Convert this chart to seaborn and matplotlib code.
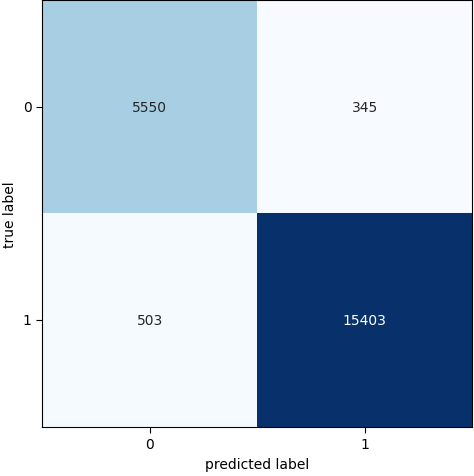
import numpy as np
import pandas as pd
import matplotlib
matplotlib.use('Agg')
import matplotlib.pyplot as plt
import seaborn as sns

# confusion matrix values
labels = ['0', '1']
cm = np.array([[5550, 345],
               [503, 15403]])

fig = plt.figure(figsize=(4.74, 4.77), dpi=100)
ax = fig.add_axes([0.089, 0.103, 0.907, 0.895])

sns.heatmap(cm, cmap='Blues', annot=True, fmt='d', cbar=False,
            xticklabels=labels, yticklabels=labels, square=False,
            annot_kws={'size': 10}, ax=ax)

for s in ax.spines.values():
    s.set_visible(True)
    s.set_color('black')
    s.set_linewidth(0.8)

ax.tick_params(length=4, labelsize=10)
plt.yticks(rotation=0)
ax.set_xlabel('predicted label')
ax.set_ylabel('true label')

plt.savefig('out.png', dpi=100)
